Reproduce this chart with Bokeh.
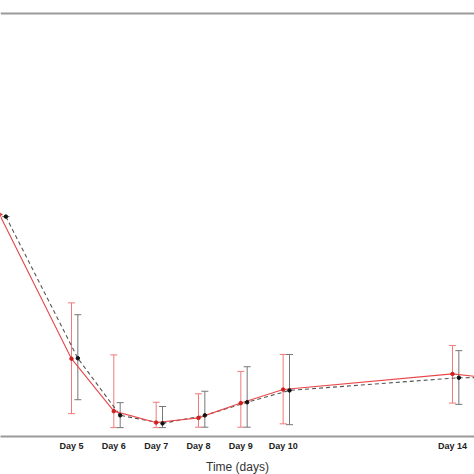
from bokeh.plotting import figure
from bokeh.models import ColumnDataSource, Range1d, FixedTicker, Whisker, TeeHead, Span
from bokeh.transform import dodge
from bokeh.embed import file_html
from bokeh.resources import INLINE

# Data (arbitrary y units)
days = [3.3, 5, 6, 7, 8, 9, 10, 14, 21]
red_mean = [5.25, 1.84, 0.60, 0.33, 0.44, 0.79, 1.11, 1.48, 0.73]
red_upper = [5.25, 3.16, 1.93, 0.81, 1.01, 1.54, 1.94, 2.15, 0.73]
red_lower = [5.25, 0.54, 0.21, 0.21, 0.22, 0.22, 0.30, 0.79, 0.73]
black_mean = [5.2, 1.85, 0.50, 0.31, 0.50, 0.81, 1.09, 1.39, 1.42]
black_upper = [5.2, 2.88, 0.80, 0.71, 1.07, 1.65, 1.94, 2.03, 1.42]
black_lower = [5.2, 0.87, 0.21, 0.21, 0.22, 0.22, 0.28, 0.76, 1.42]
tick_days = [5, 6, 7, 8, 9, 10, 14]
tick_labels = ["Day 5", "Day 6", "Day 7", "Day 8", "Day 9", "Day 10", "Day 14"]
x_label = "Time (days)"

src = ColumnDataSource(dict(day=days, rm=red_mean, ru=red_upper, rl=red_lower,
                            bm=black_mean, bu=black_upper, bl=black_lower))

p = figure(frame_width=474, frame_height=425, output_backend="svg", toolbar_location=None,
           x_range=Range1d(3.323, 14.52), y_range=Range1d(0, 10.05),
           min_border_left=0, min_border_right=0, min_border_top=11, min_border_bottom=0)
p.outline_line_color = None
p.grid.visible = False
p.yaxis.visible = False
p.background_fill_color = "white"
p.border_fill_color = "white"

xa = p.xaxis[0]
xa.ticker = FixedTicker(ticks=tick_days)
xa.major_label_overrides = {d: l for d, l in zip(tick_days, tick_labels)}
xa.major_tick_out = 0
xa.major_tick_in = 0
xa.minor_tick_out = 0
xa.minor_tick_in = 0
xa.axis_line_color = "#9a9a9a"
xa.axis_line_width = 2
xa.major_label_text_font = "Liberation Sans"
xa.major_label_text_font_size = "9px"
xa.major_label_text_font_style = "bold"
xa.major_label_text_color = "#222222"
xa.major_label_standoff = 4
xa.axis_label = x_label
xa.axis_label_text_font = "Liberation Sans"
xa.axis_label_text_font_size = "12px"
xa.axis_label_text_font_style = "normal"
xa.axis_label_text_color = "#333333"
xa.axis_label_standoff = 6

p.add_layout(Span(location=10, dimension="width", line_color="#9a9a9a", line_width=2))

red = "#e8474a"
red_light = "#f07a7a"
grey = "#777777"

# error bars
p.add_layout(Whisker(source=src, base="day", upper="ru", lower="rl",
                     line_color=red_light, line_width=1,
                     upper_head=TeeHead(size=7, line_color=red_light, line_width=1),
                     lower_head=TeeHead(size=7, line_color=red_light, line_width=1)))
p.add_layout(Whisker(source=src, base=dodge("day", 0.15, range=p.x_range), upper="bu", lower="bl",
                     line_color=grey, line_width=1,
                     upper_head=TeeHead(size=7, line_color=grey, line_width=1),
                     lower_head=TeeHead(size=7, line_color=grey, line_width=1)))

p.line(x=dodge("day", 0.15, range=p.x_range), y="bm", source=src, line_color="#555555",
       line_width=1.1, line_dash="4 3")
p.line(x="day", y="rm", source=src, line_color=red, line_width=1.1)
p.scatter(x="day", y="rm", source=src, size=3.5, color="#d02020")
p.scatter(x=dodge("day", 0.15, range=p.x_range), y="bm", source=src, size=3.5, color="#111111")

open("out.html", "w").write(file_html(p, INLINE))
